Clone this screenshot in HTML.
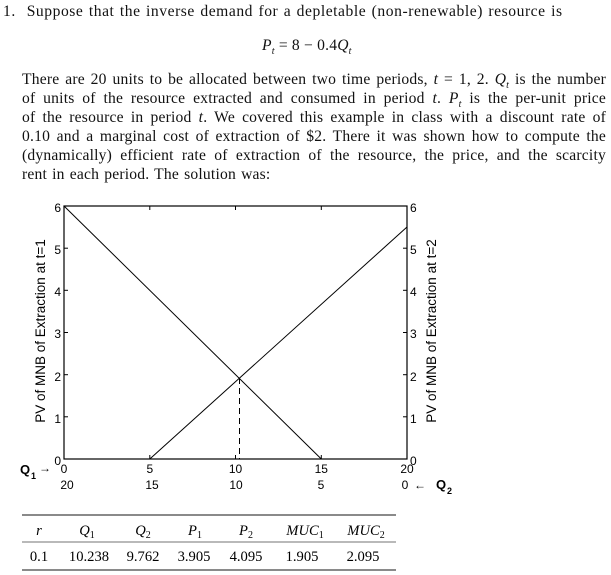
<!DOCTYPE html>
<html><head><style>
body{margin:0;width:611px;height:575px;background:#fff;font-family:"Liberation Serif",serif;color:#111;position:relative;overflow:hidden}
.t{position:absolute;left:22px;font-size:15.6px;white-space:nowrap;letter-spacing:0.2px}
.j{width:584px;text-align:justify;text-align-last:justify;white-space:normal;height:19px;overflow:hidden}
svg{position:absolute;left:0;top:0}
</style></head><body>
<div class="t" style="left:3px;top:3px;letter-spacing:0.55px;word-spacing:1px">1.&nbsp; Suppose that the inverse demand for a depletable (non-renewable) resource is</div>
<div class="t" style="left:262px;top:37px"><i>P<sub style="font-size:10px">t</sub></i> = 8 − 0.4<i>Q<sub style="font-size:10px">t</sub></i></div>
<div class="t j" style="top:71px">There are 20 units to be allocated between two time periods, <i>t</i> = 1, 2. <i>Q<sub style="font-size:10px">t</sub></i> is the number</div>
<div class="t j" style="top:90px">of units of the resource extracted and consumed in period <i>t</i>. <i>P<sub style="font-size:10px">t</sub></i> is the per-unit price</div>
<div class="t j" style="top:109px">of the resource in period <i>t</i>. We covered this example in class with a discount rate of</div>
<div class="t j" style="top:128px">0.10 and a marginal cost of extraction of $2. There it was shown how to compute the</div>
<div class="t j" style="top:147px">(dynamically) efficient rate of extraction of the resource, the price, and the scarcity</div>
<div class="t" style="top:166px;word-spacing:1px">rent in each period. The solution was:</div>
<svg width="611" height="575" font-family="Liberation Sans, sans-serif" font-size="12">
<rect x="64" y="206" width="343" height="253" fill="none" stroke="#000" stroke-width="1.2"/>
<g stroke="#000">
<line x1="64" y1="206" x2="321.3" y2="459"/>
<line x1="149.8" y1="459" x2="407" y2="227"/>
<line x1="239.5" y1="378" x2="239.5" y2="459" stroke-dasharray="6,4"/>
<line x1="64" y1="248.2" x2="68" y2="248.2"/><line x1="64" y1="290.3" x2="68" y2="290.3"/><line x1="64" y1="332.5" x2="68" y2="332.5"/><line x1="64" y1="374.7" x2="68" y2="374.7"/><line x1="64" y1="416.8" x2="68" y2="416.8"/>
<line x1="403" y1="248.2" x2="407" y2="248.2"/><line x1="403" y1="290.3" x2="407" y2="290.3"/><line x1="403" y1="332.5" x2="407" y2="332.5"/><line x1="403" y1="374.7" x2="407" y2="374.7"/><line x1="403" y1="416.8" x2="407" y2="416.8"/>
<line x1="149.8" y1="206" x2="149.8" y2="210"/><line x1="235.5" y1="206" x2="235.5" y2="210"/><line x1="321.3" y1="206" x2="321.3" y2="210"/>
<line x1="149.8" y1="459" x2="149.8" y2="455"/><line x1="235.5" y1="459" x2="235.5" y2="455"/><line x1="321.3" y1="459" x2="321.3" y2="455"/>
</g>
<g text-anchor="end"><text x="61" y="212">6</text><text x="61" y="254">5</text><text x="61" y="296">4</text><text x="61" y="338">3</text><text x="61" y="381">2</text><text x="61" y="423">1</text><text x="61" y="465">0</text></g>
<g><text x="410" y="212">6</text><text x="410" y="254">5</text><text x="410" y="296">4</text><text x="410" y="338">3</text><text x="410" y="381">2</text><text x="410" y="423">1</text><text x="410" y="465">0</text></g>
<g text-anchor="middle"><text x="64" y="473">0</text><text x="149.8" y="473">5</text><text x="235.5" y="473">10</text><text x="321.3" y="473">15</text><text x="407" y="473">20</text>
<text x="67" y="489">20</text><text x="152" y="489">15</text><text x="236" y="489">10</text><text x="321" y="489">5</text><text x="405" y="489">0</text></g>
<text x="20" y="474" font-weight="bold" font-size="13">Q</text><text x="31" y="479" font-weight="bold" font-size="9">1</text><text x="39" y="472" font-size="12">→</text>
<text x="414" y="489" font-size="12">←</text><text x="436" y="489" font-weight="bold" font-size="13">Q</text><text x="447" y="494" font-weight="bold" font-size="9">2</text>
<text transform="translate(45,331) rotate(-90)" text-anchor="middle" font-size="13.5">PV of MNB of Extraction at t=1</text>
<text transform="translate(436,331) rotate(-90)" text-anchor="middle" font-size="13.5">PV of MNB of Extraction at t=2</text>
<g stroke="#444"><line x1="22" y1="515" x2="396" y2="515" stroke-width="1.3"/><line x1="22" y1="542" x2="396" y2="542" stroke-width="0.8"/><line x1="22" y1="570" x2="396" y2="570" stroke-width="1.3"/></g>
<g font-family="Liberation Serif, serif" font-size="14.6" text-anchor="middle">
<text x="39" y="535" font-style="italic">r</text>
<text x="87" y="535" font-style="italic">Q<tspan font-size="10" dy="3" font-style="normal">1</tspan></text>
<text x="143" y="535" font-style="italic">Q<tspan font-size="10" dy="3" font-style="normal">2</tspan></text>
<text x="195" y="535" font-style="italic">P<tspan font-size="10" dy="3" font-style="normal">1</tspan></text>
<text x="246" y="535" font-style="italic">P<tspan font-size="10" dy="3" font-style="normal">2</tspan></text>
<text x="305" y="535" font-style="italic">MUC<tspan font-size="10" dy="3" font-style="normal">1</tspan></text>
<text x="366" y="535" font-style="italic">MUC<tspan font-size="10" dy="3" font-style="normal">2</tspan></text>
<text x="39" y="561">0.1</text><text x="89" y="561">10.238</text><text x="143" y="561">9.762</text><text x="194" y="561">3.905</text><text x="246" y="561">4.095</text><text x="302" y="561">1.905</text><text x="363" y="561">2.095</text>
</g>
</svg>
</body></html>
